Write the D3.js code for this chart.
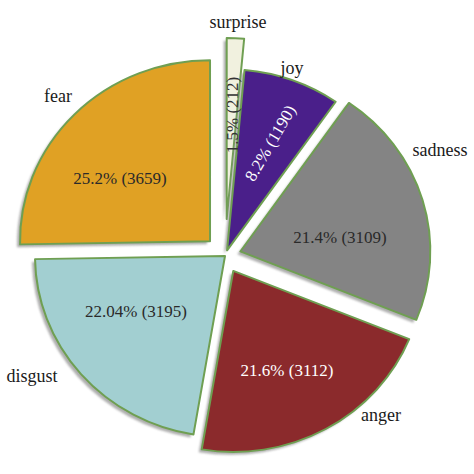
<!DOCTYPE html>
<html>
<head>
<meta charset="utf-8">
<script src="https://cdn.jsdelivr.net/npm/d3@7/dist/d3.min.js"></script>
<style>
  body { margin: 0; background: #fff; }
  svg { display: block; }
  text { font-family: "Liberation Serif", "DejaVu Serif", serif; }
</style>
</head>
<body>
<svg id="chart" width="474" height="474"></svg>
<script>
// data, clockwise from 12 o'clock
var emotions = ["surprise", "joy", "sadness", "anger", "disgust", "fear"];
var counts = [212, 1190, 3109, 3112, 3195, 3659];
var pctLabels = ["1.5%", "8.2%", "21.4%", "21.6%", "22.04%", "25.2%"];
var colors = ["#f1f1df", "#4a1f8a", "#848484", "#8b2a2c", "#a2cfd1", "#e0a124"];

// layout stuff (explode distance along bisector, label spots)
var explode = [37, 6, 16, 17, 0, 21];
var nameSpots = [[238, 28], [292, 74], [440, 156], [381, 421], [32, 382], [58, 102]];
var valueSpots = [[232, 115, -90], [270, 143, -60], [340, 243, 0], [287, 376, 0], [136, 317, 0], [120, 184, 0]];
var valueColors = ["#333", "#fff", "#2a2a2a", "#fff", "#2a2a2a", "#2a2a2a"];

var svg = d3.select("#chart");
var cx = 225, cy = 256;
var r = 190, squash = 0.953;

var pie = d3.pie().sort(null).value(function(d) { return d; });
var arcs = pie(counts);
var arc = d3.arc().innerRadius(0).outerRadius(r);

// drop shadow blur
svg.append("defs").append("filter")
  .attr("id", "blur")
  .append("feGaussianBlur").attr("stdDeviation", 1.2);

var slices = svg.selectAll("g.slice")
  .data(arcs)
  .enter().append("g")
  .attr("class", "slice")
  .attr("transform", function(d, i) {
    var mid = (d.startAngle + d.endAngle) / 2;
    var x = cx + explode[i] * Math.sin(mid);
    var y = cy - explode[i] * Math.cos(mid);
    return "translate(" + x + "," + y + ") scale(1," + squash + ")";
  });

slices.append("path")
  .attr("d", arc)
  .attr("transform", "translate(-3,3)")
  .attr("fill", "#8c8c8c")
  .attr("opacity", 0.7)
  .attr("filter", "url(#blur)");

slices.append("path")
  .attr("d", arc)
  .attr("fill", function(d, i) { return colors[i]; })
  .attr("stroke", "#6f9f52")
  .attr("stroke-width", 2)
  .attr("stroke-linejoin", "round");

// outside names
svg.selectAll("text.name")
  .data(emotions)
  .enter().append("text")
  .attr("class", "name")
  .attr("x", function(d, i) { return nameSpots[i][0]; })
  .attr("y", function(d, i) { return nameSpots[i][1]; })
  .attr("text-anchor", "middle")
  .attr("font-size", 18)
  .attr("fill", "#1a1a1a")
  .text(function(d) { return d; });

// value labels in the slices
svg.selectAll("text.val")
  .data(counts)
  .enter().append("text")
  .attr("class", "val")
  .attr("transform", function(d, i) {
    var s = valueSpots[i];
    return "translate(" + s[0] + "," + s[1] + ") rotate(" + s[2] + ")";
  })
  .attr("dy", function(d, i) { return valueSpots[i][2] ? "0.35em" : 0; })
  .attr("text-anchor", "middle")
  .attr("font-size", 17)
  .attr("fill", function(d, i) { return valueColors[i]; })
  .text(function(d, i) { return pctLabels[i] + " (" + d + ")"; });
</script>
</body>
</html>
